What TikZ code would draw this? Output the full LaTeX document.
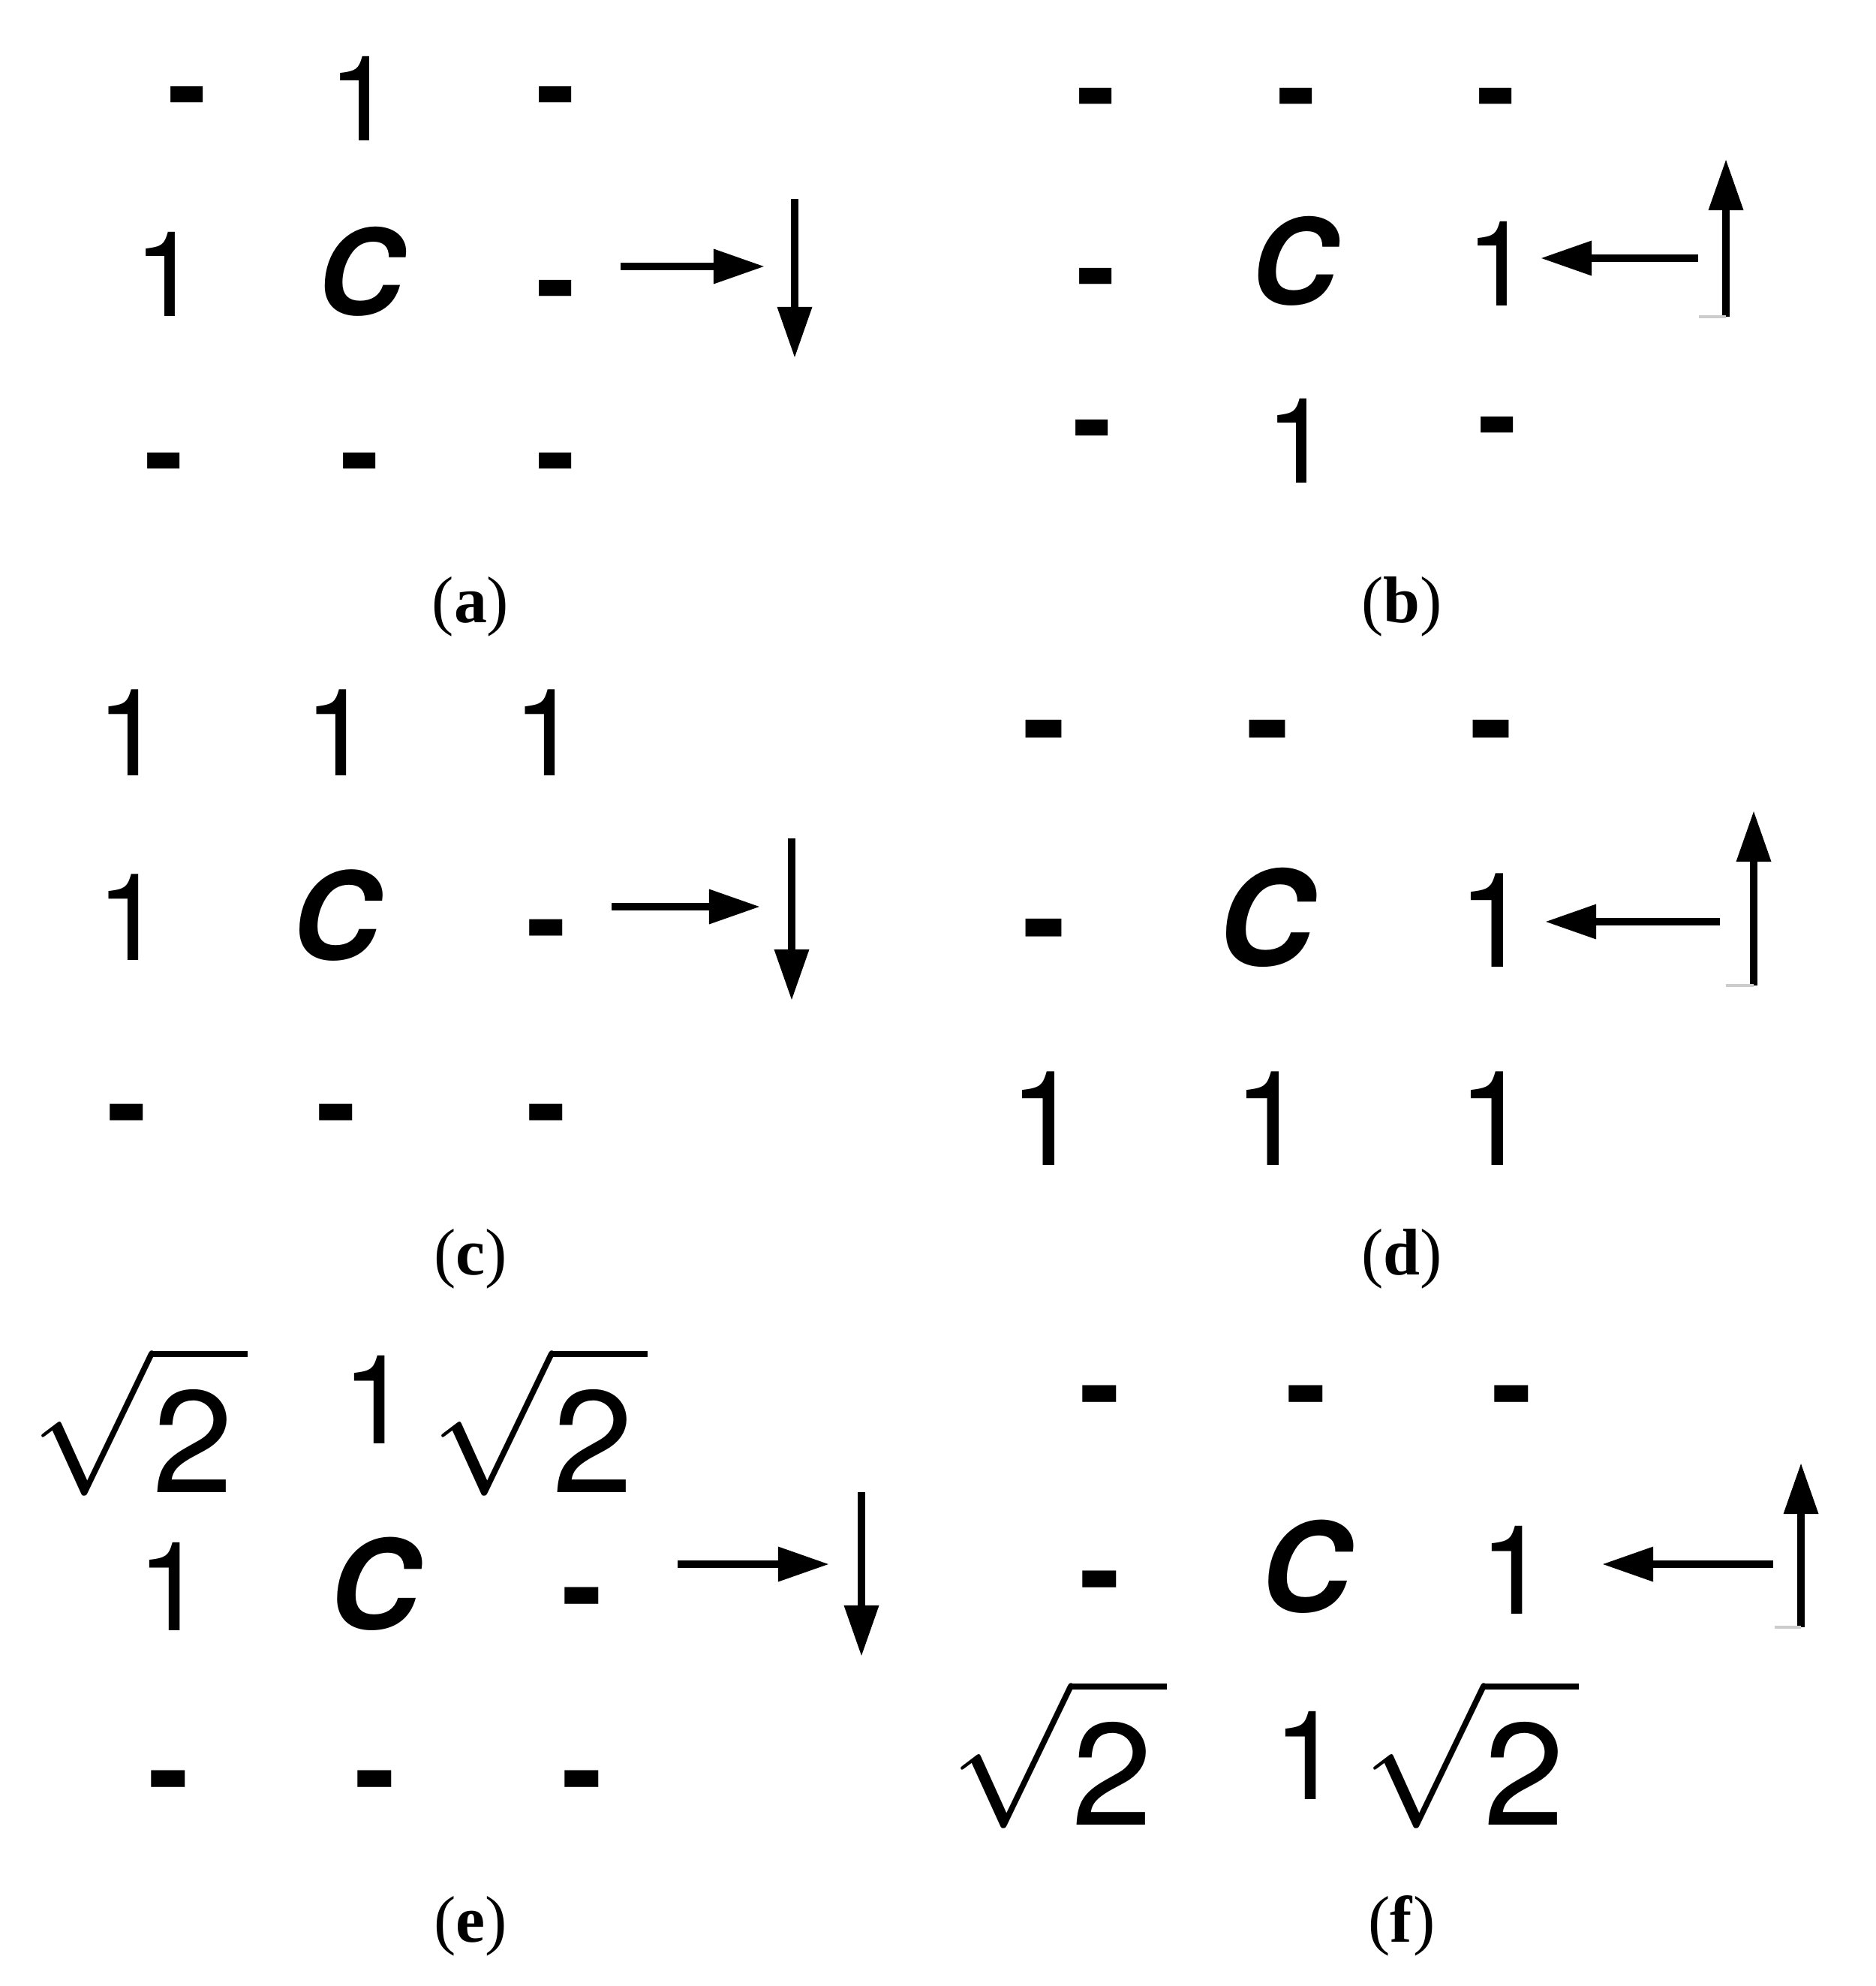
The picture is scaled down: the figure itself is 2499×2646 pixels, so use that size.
\RequirePackage{fix-cm}
\documentclass[tikz,border=0pt]{standalone}
\usepackage{amsmath}
\usepackage{fontspec}
\setmainfont{TeX Gyre Heros}
\newfontfamily\capfont{Liberation Serif}
\usetikzlibrary{arrows.meta}

\begin{document}
\begin{tikzpicture}[x=0.01cm,y=-0.01cm,
    cell/.style={inner sep=0pt,anchor=base},
    nilcell/.style={inner sep=0pt,anchor=base,yshift=-0.44cm},
    turn/.style={line width=2.8pt,-{Triangle[length=6.8mm,width=4.4mm]}},
    stub/.style={line width=1pt,black!20},
    caption/.style={inner sep=0pt,font=\capfont\fontsize{25}{30}\selectfont},
    sizeab/.style={font=\fontsize{45}{50}\selectfont},
    sizec/.style={font=\fontsize{46}{52}\selectfont},
    sized/.style={font=\fontsize{50}{56}\selectfont},
    sizeef/.style={font=\fontsize{47}{53}\selectfont},
    root/.style={inner sep=0pt,anchor=base,font=\fontsize{55}{60}\selectfont}]

    \useasboundingbox (0,0) rectangle (2499,2646);

    % (a)
    \begin{scope}[sizeab]
    \node[nilcell] (a11) at (250,125) {\bfseries -};
    \node[cell] (a12) at (481,188) {1};
    \node[nilcell] (a13) at (741,125) {\bfseries -};
    \node[cell] (a21) at (222,422) {1};
    \node[cell] (a22) at (480,420) {\bfseries\itshape C};
    \node[nilcell] (a23) at (741,383) {\bfseries -};
    \node[nilcell] (a31) at (219,613) {\bfseries -};
    \node[nilcell] (a32) at (480,613) {\bfseries -};
    \node[nilcell] (a33) at (741,613) {\bfseries -};
    \end{scope}
    \coordinate (a-h0) at (827,355); \coordinate (a-h1) at (1019,355);
    \coordinate (a-v0) at (1059,265); \coordinate (a-v1) at (1059,477);
    \draw[turn] (a-h0) -- (a-h1);
    \draw[turn] (a-v0) -- (a-v1);
    \node[caption] (capa) at (627,808) {(\textbf{a})};

    % (b)
    \begin{scope}[sizeab]
    \node[nilcell] (b11) at (1461,127) {\bfseries -};
    \node[nilcell] (b12) at (1728,127) {\bfseries -};
    \node[nilcell] (b13) at (1994,127) {\bfseries -};
    \node[nilcell] (b21) at (1461,367) {\bfseries -};
    \node[cell] (b22) at (1724,406) {\bfseries\itshape C};
    \node[cell] (b23) at (1997,408) {1};
    \node[nilcell] (b31) at (1456,569) {\bfseries -};
    \node[cell] (b32) at (1730,643) {1};
    \node[nilcell] (b33) at (1996,565) {\bfseries -};
    \end{scope}
    \coordinate (b-h0) at (2263,344); \coordinate (b-h1) at (2053,344);
    \coordinate (b-v0) at (2300,422); \coordinate (b-v1) at (2300,212);
    \coordinate (b-s) at (2264,422);
    \draw[turn] (b-h0) -- (b-h1);
    \draw[turn] (b-v0) -- (b-v1);
    \draw[stub] (b-s) -- (b-v0);
    \node[caption] (capb) at (1868,808) {(\textbf{b})};

    % (c)
    \begin{scope}[sizec]
    \node[cell] (c11) at (173,1033) {1};
    \node[cell] (c12) at (450,1033) {1};
    \node[cell] (c13) at (728,1033) {1};
    \node[cell] (c21) at (173,1279) {1};
    \node[cell] (c22) at (447,1278) {\bfseries\itshape C};
    \node[nilcell] (c23) at (728,1236) {\bfseries -};
    \node[nilcell] (c31) at (169,1482) {\bfseries -};
    \node[nilcell] (c32) at (448,1482) {\bfseries -};
    \node[nilcell] (c33) at (728,1482) {\bfseries -};
    \end{scope}
    \coordinate (c-h0) at (815,1208); \coordinate (c-h1) at (1013,1208);
    \coordinate (c-v0) at (1055,1117); \coordinate (c-v1) at (1055,1333);
    \draw[turn] (c-h0) -- (c-h1);
    \draw[turn] (c-v0) -- (c-v1);
    \node[caption] (capc) at (627,1677) {(\textbf{c})};

    % (d)
    \begin{scope}[sized]
    \node[nilcell] (d11) at (1392,975) {\bfseries -};
    \node[nilcell] (d12) at (1690,975) {\bfseries -};
    \node[nilcell] (d13) at (1988,975) {\bfseries -};
    \node[nilcell] (d21) at (1392,1240) {\bfseries -};
    \node[cell] (d22) at (1686,1286) {\bfseries\itshape C};
    \node[cell] (d23) at (1991,1288) {1};
    \node[cell] (d31) at (1393,1552) {1};
    \node[cell] (d32) at (1692,1552) {1};
    \node[cell] (d33) at (1991,1552) {1};
    \end{scope}
    \coordinate (d-h0) at (2292,1228); \coordinate (d-h1) at (2059,1228);
    \coordinate (d-v0) at (2337,1313); \coordinate (d-v1) at (2337,1080);
    \coordinate (d-s) at (2300,1313);
    \draw[turn] (d-h0) -- (d-h1);
    \draw[turn] (d-v0) -- (d-v1);
    \draw[stub] (d-s) -- (d-v0);
    \node[caption] (capd) at (1868,1677) {(\textbf{d})};

    % (e)
    \begin{scope}[sizeef]
    \node[root] (e11) at (186,1988) {$\sqrt{\mbox{\rule{0pt}{0.88em}2\kern0.1em}}$};
    \node[cell] (e12) at (501,1923) {1};
    \node[root] (e13) at (719,1988) {$\sqrt{\mbox{\rule{0pt}{0.88em}2\kern0.1em}}$};
    \node[cell] (e21) at (228,2172) {1};
    \node[cell] (e22) at (498,2170) {\bfseries\itshape C};
    \node[nilcell] (e23) at (776,2127) {\bfseries -};
    \node[nilcell] (e31) at (225,2371) {\bfseries -};
    \node[nilcell] (e32) at (500,2371) {\bfseries -};
    \node[nilcell] (e33) at (776,2371) {\bfseries -};
    \end{scope}
    \coordinate (e-h0) at (903,2084); \coordinate (e-h1) at (1105,2084);
    \coordinate (e-v0) at (1148,1988); \coordinate (e-v1) at (1148,2207);
    \draw[turn] (e-h0) -- (e-h1);
    \draw[turn] (e-v0) -- (e-v1);
    \node[caption] (cape) at (627,2566) {(\textbf{e})};

    % (f)
    \begin{scope}[sizeef]
    \node[nilcell] (f11) at (1466,1858) {\bfseries -};
    \node[nilcell] (f12) at (1741,1858) {\bfseries -};
    \node[nilcell] (f13) at (2015,1858) {\bfseries -};
    \node[nilcell] (f21) at (1466,2105) {\bfseries -};
    \node[cell] (f22) at (1739,2147) {\bfseries\itshape C};
    \node[cell] (f23) at (2017,2150) {1};
    \node[root] (f31) at (1411,2431) {$\sqrt{\mbox{\rule{0pt}{0.88em}2\kern0.1em}}$};
    \node[cell] (f32) at (1742,2397) {1};
    \node[root] (f33) at (1960,2431) {$\sqrt{\mbox{\rule{0pt}{0.88em}2\kern0.1em}}$};
    \end{scope}
    \coordinate (f-h0) at (2363,2084); \coordinate (f-h1) at (2135,2084);
    \coordinate (f-v0) at (2400,2168); \coordinate (f-v1) at (2400,1949);
    \coordinate (f-s) at (2365,2168);
    \draw[turn] (f-h0) -- (f-h1);
    \draw[turn] (f-v0) -- (f-v1);
    \draw[stub] (f-s) -- (f-v0);
    \node[caption] (capf) at (1868,2566) {(\textbf{f})};

\end{tikzpicture}
\end{document}
